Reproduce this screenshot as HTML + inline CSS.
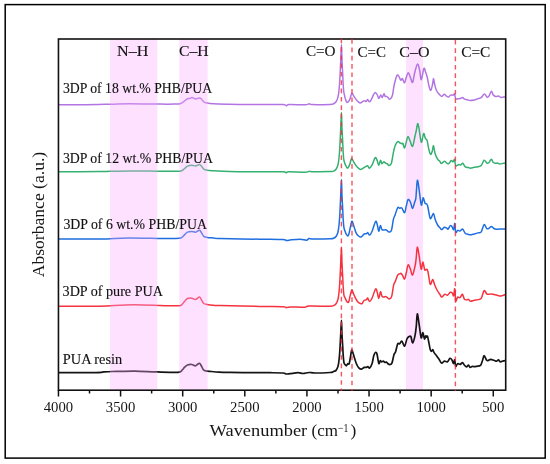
<!DOCTYPE html><html><head><meta charset="utf-8"><style>html,body{margin:0;padding:0;background:#fff}svg{display:block}text{font-family:'Liberation Serif','DejaVu Serif',serif;fill:#111;stroke:#111;stroke-width:0.12px}</style></head><body>
<svg width="550" height="464" viewBox="0 0 550 464">
<rect x="0" y="0" width="550" height="464" fill="#fff"/>
<rect x="5.2" y="4.6" width="540" height="453.5" fill="none" stroke="#000" stroke-width="1.5"/>
<defs><clipPath id="c"><rect x="58.45" y="39.0" width="447.25" height="351.2"/></clipPath></defs>
<rect x="406" y="39.0" width="17" height="351.2" fill="#fde1fe"/>
<g clip-path="url(#c)" fill="none" stroke-width="1.5" stroke-linejoin="round" stroke-linecap="round">
<path d="M58.00 372.60C64.33 372.60 88.33 372.72 96.00 372.60C103.67 372.48 101.33 372.08 104.00 371.90C106.67 371.72 109.33 371.58 112.00 371.50C114.67 371.42 116.17 371.45 120.00 371.40C123.83 371.35 129.17 371.12 135.00 371.20C140.83 371.28 149.17 371.72 155.00 371.90C160.83 372.08 165.95 372.25 170.00 372.30C174.05 372.35 177.30 372.55 179.30 372.20C181.30 371.85 181.10 371.03 182.00 370.20C182.90 369.37 183.78 368.07 184.70 367.20C185.62 366.33 186.32 365.45 187.50 365.00C188.68 364.55 190.53 364.37 191.80 364.50C193.07 364.63 194.18 365.80 195.10 365.80C196.02 365.80 196.57 364.92 197.30 364.50C198.03 364.08 198.78 362.98 199.50 363.30C200.22 363.62 200.97 365.35 201.60 366.40C202.23 367.45 202.57 368.83 203.30 369.60C204.03 370.37 205.00 370.72 206.00 371.00C207.00 371.28 207.13 371.12 209.30 371.30C211.47 371.48 215.55 371.92 219.00 372.10C222.45 372.28 224.83 372.32 230.00 372.40C235.17 372.48 243.33 372.55 250.00 372.60C256.67 372.65 264.50 372.63 270.00 372.70C275.50 372.77 280.27 372.78 283.00 373.00C285.73 373.22 285.23 373.88 286.40 374.00C287.57 374.12 288.07 373.93 290.00 373.70C291.93 373.47 295.83 372.63 298.00 372.60C300.17 372.57 301.17 373.52 303.00 373.50C304.83 373.48 307.00 372.58 309.00 372.50C311.00 372.42 311.50 373.00 315.00 373.00C318.50 373.00 327.00 372.70 330.00 372.50C333.00 372.30 332.33 372.00 333.00 371.80C333.67 371.60 333.49 371.54 334.00 371.30C334.51 371.06 335.41 371.11 336.05 370.35C336.69 369.59 337.41 368.03 337.85 366.74C338.29 365.45 338.42 364.50 338.70 362.61C338.98 360.72 339.27 358.14 339.50 355.39C339.73 352.64 339.89 349.71 340.10 346.10C340.31 342.49 340.52 338.02 340.75 333.72C340.98 329.42 341.25 320.30 341.45 320.30C341.65 320.30 341.74 329.42 341.95 333.72C342.16 338.02 342.49 342.49 342.70 346.10C342.91 349.71 342.99 352.64 343.20 355.39C343.41 358.14 343.65 361.11 343.95 362.61C344.25 364.11 344.59 363.87 345.00 364.40C345.41 364.93 345.93 365.92 346.40 365.80C346.87 365.68 347.33 364.05 347.80 363.70C348.27 363.35 348.73 364.97 349.20 363.70C349.67 362.43 350.18 358.40 350.60 356.10C351.02 353.80 351.25 350.23 351.70 349.90C352.15 349.57 352.57 351.92 353.30 354.10C354.03 356.28 355.18 360.70 356.10 363.00C357.02 365.30 357.88 366.87 358.80 367.90C359.72 368.93 360.70 369.28 361.60 369.20C362.50 369.12 363.38 367.70 364.20 367.40C365.02 367.10 365.90 367.53 366.50 367.40C367.10 367.27 367.28 366.50 367.80 366.60C368.32 366.70 368.88 368.52 369.60 368.00C370.32 367.48 371.40 365.57 372.10 363.50C372.80 361.43 373.20 357.47 373.80 355.60C374.40 353.73 375.15 352.48 375.70 352.30C376.25 352.12 376.58 352.63 377.10 354.50C377.62 356.37 378.28 362.47 378.80 363.50C379.32 364.53 379.73 360.98 380.20 360.70C380.67 360.42 381.08 361.72 381.60 361.80C382.12 361.88 382.73 361.10 383.30 361.20C383.87 361.30 384.48 362.25 385.00 362.40C385.52 362.55 385.85 361.83 386.40 362.10C386.95 362.37 387.70 363.58 388.30 364.00C388.90 364.42 389.38 364.78 390.00 364.60C390.62 364.42 391.33 364.58 392.00 362.90C392.67 361.22 393.40 356.37 394.00 354.50C394.60 352.63 394.98 353.47 395.60 351.70C396.22 349.93 397.03 345.20 397.70 343.90C398.37 342.60 398.92 344.37 399.60 343.90C400.28 343.43 400.97 340.73 401.80 341.10C402.63 341.47 403.75 346.45 404.60 346.10C405.45 345.75 406.18 340.57 406.90 339.00C407.62 337.43 408.25 337.12 408.90 336.70C409.55 336.28 410.15 335.47 410.80 336.50C411.45 337.53 412.08 343.12 412.80 342.90C413.52 342.68 414.52 338.02 415.10 335.20C415.68 332.38 415.93 329.57 416.30 326.00C416.67 322.43 416.82 314.00 417.30 313.80C417.78 313.60 418.55 320.80 419.20 324.80C419.85 328.80 420.58 336.50 421.20 337.80C421.82 339.10 422.37 332.40 422.90 332.60C423.43 332.80 423.93 338.47 424.40 339.00C424.87 339.53 425.32 336.12 425.70 335.80C426.08 335.48 426.38 336.98 426.70 337.10C427.02 337.22 427.23 335.53 427.60 336.50C427.97 337.47 428.47 340.75 428.90 342.90C429.33 345.05 429.77 348.00 430.20 349.40C430.63 350.80 431.07 351.25 431.50 351.30C431.93 351.35 432.37 349.48 432.80 349.70C433.23 349.92 433.45 351.57 434.10 352.60C434.75 353.63 435.83 354.72 436.70 355.90C437.57 357.08 438.47 358.50 439.30 359.70C440.13 360.90 440.87 362.85 441.70 363.10C442.53 363.35 443.33 361.42 444.30 361.20C445.27 360.98 446.55 362.28 447.50 361.80C448.45 361.32 449.27 358.62 450.00 358.30C450.73 357.98 451.33 359.00 451.90 359.90C452.47 360.80 452.93 363.70 453.40 363.70C453.87 363.70 454.32 359.47 454.70 359.90C455.08 360.33 455.22 365.67 455.70 366.30C456.18 366.93 456.85 364.02 457.60 363.70C458.35 363.38 459.38 364.60 460.20 364.40C461.02 364.20 461.82 362.40 462.50 362.50C463.18 362.60 463.63 364.27 464.30 365.00C464.97 365.73 465.80 366.90 466.50 366.90C467.20 366.90 467.90 364.90 468.50 365.00C469.10 365.10 469.47 367.28 470.10 367.50C470.73 367.72 471.62 366.43 472.30 366.30C472.98 366.17 473.47 366.70 474.20 366.70C474.93 366.70 475.65 366.52 476.70 366.30C477.75 366.08 479.53 366.37 480.50 365.40C481.47 364.43 481.90 362.12 482.50 360.50C483.10 358.88 483.40 355.73 484.10 355.70C484.80 355.67 486.02 359.50 486.70 360.30C487.38 361.10 487.53 360.67 488.20 360.50C488.87 360.33 489.75 359.33 490.70 359.30C491.65 359.27 492.93 359.98 493.90 360.30C494.87 360.62 495.75 361.27 496.50 361.20C497.25 361.13 497.77 359.80 498.40 359.90C499.03 360.00 499.45 361.65 500.30 361.80C501.15 361.95 502.55 361.02 503.50 360.80C504.45 360.58 505.58 360.55 506.00 360.50" stroke="#141414" stroke-width="1.7"/>
<path d="M58.00 306.20C65.00 306.20 89.67 306.35 100.00 306.20C110.33 306.05 114.17 305.53 120.00 305.30C125.83 305.07 128.33 304.77 135.00 304.80C141.67 304.83 154.17 305.33 160.00 305.50C165.83 305.67 166.78 305.77 170.00 305.80C173.22 305.83 177.30 305.92 179.30 305.70C181.30 305.48 181.10 305.23 182.00 304.50C182.90 303.77 183.78 302.30 184.70 301.30C185.62 300.30 186.32 299.02 187.50 298.50C188.68 297.98 190.45 298.05 191.80 298.20C193.15 298.35 194.32 299.58 195.60 299.40C196.88 299.22 198.50 296.97 199.50 297.10C200.50 297.23 200.88 299.13 201.60 300.20C202.32 301.27 202.88 302.78 203.80 303.50C204.72 304.22 205.47 304.20 207.10 304.50C208.73 304.80 211.45 305.12 213.60 305.30C215.75 305.48 212.27 305.42 220.00 305.60C227.73 305.78 249.50 306.22 260.00 306.40C270.50 306.58 278.60 306.48 283.00 306.70C287.40 306.92 285.23 307.67 286.40 307.70C287.57 307.73 286.98 306.98 290.00 306.90C293.02 306.82 301.33 307.33 304.50 307.20C307.67 307.07 304.75 306.27 309.00 306.10C313.25 305.93 325.92 306.28 330.00 306.20C334.08 306.12 332.49 306.01 333.50 305.60C334.51 305.19 335.33 304.74 336.05 303.76C336.77 302.78 337.41 301.16 337.85 299.71C338.29 298.26 338.42 297.20 338.70 295.08C338.98 292.95 339.27 290.06 339.50 286.97C339.73 283.88 339.89 280.60 340.10 276.55C340.31 272.50 340.52 267.48 340.75 262.65C340.98 257.83 341.25 247.60 341.45 247.60C341.65 247.60 341.74 257.83 341.95 262.65C342.16 267.48 342.49 272.50 342.70 276.55C342.91 280.60 342.99 283.88 343.20 286.97C343.41 290.06 343.65 293.29 343.95 295.08C344.25 296.87 344.54 296.68 345.00 297.70C345.46 298.72 346.08 300.48 346.70 301.20C347.32 301.92 348.10 303.03 348.70 302.00C349.30 300.97 349.77 296.98 350.30 295.00C350.83 293.02 351.32 290.18 351.90 290.10C352.48 290.02 353.12 293.00 353.80 294.50C354.48 296.00 355.27 297.80 356.00 299.10C356.73 300.40 357.47 301.57 358.20 302.30C358.93 303.03 359.77 303.28 360.40 303.50C361.03 303.72 361.37 304.13 362.00 303.60C362.63 303.07 363.45 300.95 364.20 300.30C364.95 299.65 365.93 300.08 366.50 299.70C367.07 299.32 367.08 297.72 367.60 298.00C368.12 298.28 368.85 301.40 369.60 301.40C370.35 301.40 371.12 300.05 372.10 298.00C373.08 295.95 374.67 290.15 375.50 289.10C376.33 288.05 376.55 290.15 377.10 291.70C377.65 293.25 378.23 298.40 378.80 298.40C379.37 298.40 379.97 292.03 380.50 291.70C381.03 291.37 381.43 295.53 382.00 296.40C382.57 297.27 383.22 296.87 383.90 296.90C384.58 296.93 385.45 296.42 386.10 296.60C386.75 296.78 387.23 297.62 387.80 298.00C388.37 298.38 388.85 299.17 389.50 298.90C390.15 298.63 391.02 298.70 391.70 296.40C392.38 294.10 392.98 287.63 393.60 285.10C394.22 282.57 394.72 282.87 395.40 281.20C396.08 279.53 397.00 276.32 397.70 275.10C398.40 273.88 399.02 274.18 399.60 273.90C400.18 273.62 400.65 273.02 401.20 273.40C401.75 273.78 402.33 275.27 402.90 276.20C403.47 277.13 404.03 279.57 404.60 279.00C405.17 278.43 405.72 275.13 406.30 272.80C406.88 270.47 407.43 265.67 408.10 265.00C408.77 264.33 409.57 267.13 410.30 268.80C411.03 270.47 411.70 275.48 412.50 275.00C413.30 274.52 414.48 268.73 415.10 265.90C415.72 263.07 415.83 261.12 416.20 258.00C416.57 254.88 416.80 247.50 417.30 247.20C417.80 246.90 418.55 252.53 419.20 256.20C419.85 259.87 420.58 268.22 421.20 269.20C421.82 270.18 422.32 262.00 422.90 262.10C423.48 262.20 424.07 268.62 424.70 269.80C425.33 270.98 426.15 268.87 426.70 269.20C427.25 269.53 427.48 269.53 428.00 271.80C428.52 274.07 429.32 280.77 429.80 282.80C430.28 284.83 430.40 284.55 430.90 284.00C431.40 283.45 432.15 279.28 432.80 279.50C433.45 279.72 434.05 283.47 434.80 285.30C435.55 287.13 436.45 288.98 437.30 290.50C438.15 292.02 439.17 293.30 439.90 294.40C440.63 295.50 440.87 297.12 441.70 297.10C442.53 297.08 443.93 294.62 444.90 294.30C445.87 293.98 446.60 295.53 447.50 295.20C448.40 294.87 449.50 292.67 450.30 292.30C451.10 291.93 451.75 292.42 452.30 293.00C452.85 293.58 453.18 296.50 453.60 295.80C454.02 295.10 454.45 287.95 454.80 288.80C455.15 289.65 455.23 299.52 455.70 300.90C456.17 302.28 456.97 297.63 457.60 297.10C458.23 296.57 458.97 297.80 459.50 297.70C460.03 297.60 460.30 297.07 460.80 296.50C461.30 295.93 461.92 293.88 462.50 294.30C463.08 294.72 463.63 298.07 464.30 299.00C464.97 299.93 465.80 299.83 466.50 299.90C467.20 299.97 467.85 299.18 468.50 299.40C469.15 299.62 469.45 301.05 470.40 301.20C471.35 301.35 472.93 300.57 474.20 300.30C475.47 300.03 476.83 299.92 478.00 299.60C479.17 299.28 480.18 299.88 481.20 298.40C482.22 296.92 483.18 291.45 484.10 290.70C485.02 289.95 485.92 293.30 486.70 293.90C487.48 294.50 488.02 294.30 488.80 294.30C489.58 294.30 490.55 293.87 491.40 293.90C492.25 293.93 492.95 294.28 493.90 294.50C494.85 294.72 496.03 294.93 497.10 295.20C498.17 295.47 499.23 296.10 500.30 296.10C501.37 296.10 502.55 295.47 503.50 295.20C504.45 294.93 505.58 294.62 506.00 294.50" stroke="#F5333F"/>
<path d="M58.00 239.00C65.00 239.00 88.33 239.18 100.00 239.00C111.67 238.82 118.00 237.98 128.00 237.90C138.00 237.82 153.00 238.38 160.00 238.50C167.00 238.62 166.78 238.63 170.00 238.60C173.22 238.57 177.30 238.50 179.30 238.30C181.30 238.10 181.10 238.02 182.00 237.40C182.90 236.78 183.78 235.48 184.70 234.60C185.62 233.72 186.32 232.63 187.50 232.10C188.68 231.57 190.45 231.38 191.80 231.40C193.15 231.42 194.32 232.38 195.60 232.20C196.88 232.02 198.50 230.17 199.50 230.30C200.50 230.43 200.88 232.00 201.60 233.00C202.32 234.00 202.88 235.57 203.80 236.30C204.72 237.03 205.47 237.12 207.10 237.40C208.73 237.68 211.45 237.80 213.60 238.00C215.75 238.20 212.27 238.40 220.00 238.60C227.73 238.80 249.50 239.03 260.00 239.20C270.50 239.37 278.60 239.37 283.00 239.60C287.40 239.83 285.23 240.53 286.40 240.60C287.57 240.67 287.73 240.23 290.00 240.00C292.27 239.77 297.27 239.17 300.00 239.20C302.73 239.23 304.90 240.32 306.40 240.20C307.90 240.08 308.07 238.70 309.00 238.50C309.93 238.30 308.50 238.95 312.00 239.00C315.50 239.05 326.42 238.92 330.00 238.80C333.58 238.68 332.49 238.68 333.50 238.30C334.51 237.92 335.33 237.52 336.05 236.54C336.77 235.56 337.41 233.90 337.85 232.43C338.29 230.96 338.42 229.89 338.70 227.73C338.98 225.58 339.27 222.65 339.50 219.52C339.73 216.39 339.89 213.06 340.10 208.95C340.31 204.84 340.52 199.75 340.75 194.86C340.98 189.97 341.25 179.60 341.45 179.60C341.65 179.60 341.74 189.97 341.95 194.86C342.16 199.75 342.49 204.84 342.70 208.95C342.91 213.06 342.99 216.39 343.20 219.52C343.41 222.65 343.65 225.80 343.95 227.73C344.25 229.66 344.57 229.97 345.00 231.10C345.43 232.23 345.93 233.77 346.50 234.50C347.07 235.23 347.78 236.58 348.40 235.50C349.02 234.42 349.62 230.38 350.20 228.00C350.78 225.62 351.30 221.53 351.90 221.20C352.50 220.87 353.12 224.10 353.80 226.00C354.48 227.90 355.30 231.02 356.00 232.60C356.70 234.18 357.27 234.77 358.00 235.50C358.73 236.23 359.70 236.92 360.40 237.00C361.10 237.08 361.57 236.50 362.20 236.00C362.83 235.50 363.48 234.38 364.20 234.00C364.92 233.62 365.90 233.93 366.50 233.70C367.10 233.47 367.28 232.37 367.80 232.60C368.32 232.83 368.88 235.33 369.60 235.10C370.32 234.87 371.12 233.45 372.10 231.20C373.08 228.95 374.67 222.82 375.50 221.60C376.33 220.38 376.55 222.30 377.10 223.90C377.65 225.50 378.27 230.92 378.80 231.20C379.33 231.48 379.77 225.85 380.30 225.60C380.83 225.35 381.40 228.97 382.00 229.70C382.60 230.43 383.32 230.00 383.90 230.00C384.48 230.00 384.95 229.60 385.50 229.70C386.05 229.80 386.63 230.22 387.20 230.60C387.77 230.98 388.20 232.03 388.90 232.00C389.60 231.97 390.65 232.50 391.40 230.40C392.15 228.30 392.78 221.98 393.40 219.40C394.02 216.82 394.38 216.87 395.10 214.90C395.82 212.93 396.95 208.72 397.70 207.60C398.45 206.48 398.92 208.13 399.60 208.20C400.28 208.27 400.97 207.25 401.80 208.00C402.63 208.75 403.85 213.05 404.60 212.70C405.35 212.35 405.73 208.08 406.30 205.90C406.87 203.72 407.32 200.25 408.00 199.60C408.68 198.95 409.65 200.53 410.40 202.00C411.15 203.47 411.78 208.40 412.50 208.40C413.22 208.40 414.13 203.77 414.70 202.00C415.27 200.23 415.47 201.37 415.90 197.80C416.33 194.23 416.80 182.22 417.30 180.60C417.80 178.98 418.23 184.03 418.90 188.10C419.57 192.17 420.60 203.38 421.30 205.00C422.00 206.62 422.48 198.10 423.10 197.80C423.72 197.50 424.43 202.20 425.00 203.20C425.57 204.20 426.05 203.30 426.50 203.80C426.95 204.30 427.15 203.98 427.70 206.20C428.25 208.42 429.25 215.08 429.80 217.10C430.35 219.12 430.40 218.90 431.00 218.30C431.60 217.70 432.70 213.30 433.40 213.50C434.10 213.70 434.50 217.58 435.20 219.50C435.90 221.42 436.78 223.58 437.60 225.00C438.42 226.42 439.38 227.23 440.10 228.00C440.82 228.77 441.20 229.73 441.90 229.60C442.60 229.47 443.48 227.45 444.30 227.20C445.12 226.95 446.17 227.78 446.80 228.10C447.43 228.42 447.52 229.53 448.10 229.10C448.68 228.67 449.67 225.93 450.30 225.50C450.93 225.07 451.35 225.80 451.90 226.50C452.45 227.20 453.12 230.22 453.60 229.70C454.08 229.18 454.45 222.97 454.80 223.40C455.15 223.83 455.23 231.13 455.70 232.30C456.17 233.47 456.97 230.62 457.60 230.40C458.23 230.18 458.97 231.00 459.50 231.00C460.03 231.00 460.27 230.72 460.80 230.40C461.33 230.08 461.95 228.58 462.70 229.10C463.45 229.62 464.45 232.65 465.30 233.50C466.15 234.35 466.95 233.98 467.80 234.20C468.65 234.42 469.33 234.85 470.40 234.80C471.47 234.75 472.93 234.22 474.20 233.90C475.47 233.58 476.83 233.23 478.00 232.90C479.17 232.57 480.18 233.28 481.20 231.90C482.22 230.52 483.18 225.17 484.10 224.60C485.02 224.03 485.92 227.85 486.70 228.50C487.48 229.15 488.02 228.83 488.80 228.50C489.58 228.17 490.55 226.50 491.40 226.50C492.25 226.50 493.05 228.03 493.90 228.50C494.75 228.97 495.55 229.20 496.50 229.30C497.45 229.40 498.43 229.13 499.60 229.10C500.77 229.07 502.43 229.12 503.50 229.10C504.57 229.08 505.58 229.02 506.00 229.00" stroke="#1E6EE0"/>
<path d="M58.00 171.80C65.00 171.77 91.33 171.68 100.00 171.60C108.67 171.52 105.00 171.42 110.00 171.30C115.00 171.18 123.33 170.93 130.00 170.90C136.67 170.87 143.33 171.05 150.00 171.10C156.67 171.15 165.12 171.18 170.00 171.20C174.88 171.22 177.30 171.30 179.30 171.20C181.30 171.10 181.10 171.05 182.00 170.60C182.90 170.15 183.78 169.25 184.70 168.50C185.62 167.75 186.32 166.65 187.50 166.10C188.68 165.55 190.45 165.22 191.80 165.20C193.15 165.18 194.32 166.13 195.60 166.00C196.88 165.87 198.50 164.35 199.50 164.40C200.50 164.45 200.88 165.50 201.60 166.30C202.32 167.10 202.88 168.53 203.80 169.20C204.72 169.87 205.47 170.03 207.10 170.30C208.73 170.57 209.78 170.60 213.60 170.80C217.42 171.00 223.93 171.33 230.00 171.50C236.07 171.67 244.50 171.75 250.00 171.80C255.50 171.85 257.50 171.80 263.00 171.80C268.50 171.80 279.10 171.63 283.00 171.80C286.90 171.97 285.40 172.80 286.40 172.80C287.40 172.80 285.90 171.88 289.00 171.80C292.10 171.72 301.62 172.40 305.00 172.30C308.38 172.20 308.13 171.30 309.30 171.20C310.47 171.10 308.55 171.63 312.00 171.70C315.45 171.77 326.42 171.70 330.00 171.60C333.58 171.50 332.49 171.49 333.50 171.10C334.51 170.71 335.33 170.24 336.05 169.25C336.77 168.26 337.41 166.62 337.85 165.16C338.29 163.70 338.42 162.63 338.70 160.49C338.98 158.35 339.27 155.43 339.50 152.31C339.73 149.20 339.89 145.89 340.10 141.80C340.31 137.71 340.52 132.65 340.75 127.78C340.98 122.92 341.25 112.60 341.45 112.60C341.65 112.60 341.74 122.92 341.95 127.78C342.16 132.65 342.49 137.71 342.70 141.80C342.91 145.89 342.99 149.20 343.20 152.31C343.41 155.43 343.45 158.12 343.95 160.49C344.45 162.85 345.54 165.25 346.20 166.50C346.86 167.75 347.30 168.37 347.90 168.00C348.50 167.63 349.18 165.88 349.80 164.30C350.42 162.72 350.90 158.80 351.60 158.50C352.30 158.20 353.10 161.12 354.00 162.50C354.90 163.88 355.93 165.63 357.00 166.80C358.07 167.97 359.48 169.22 360.40 169.50C361.32 169.78 361.77 168.90 362.50 168.50C363.23 168.10 363.95 167.57 364.80 167.10C365.65 166.63 366.85 165.52 367.60 165.70C368.35 165.88 368.55 168.35 369.30 168.20C370.05 168.05 371.12 166.57 372.10 164.80C373.08 163.03 374.37 158.33 375.20 157.60C376.03 156.87 376.50 159.10 377.10 160.40C377.70 161.70 378.23 165.40 378.80 165.40C379.37 165.40 379.97 160.68 380.50 160.40C381.03 160.12 381.43 163.48 382.00 163.70C382.57 163.92 383.32 161.78 383.90 161.70C384.48 161.62 384.95 162.87 385.50 163.20C386.05 163.53 386.63 163.33 387.20 163.70C387.77 164.07 388.20 165.48 388.90 165.40C389.60 165.32 390.65 165.35 391.40 163.20C392.15 161.05 392.78 155.40 393.40 152.50C394.02 149.60 394.38 147.62 395.10 145.80C395.82 143.98 396.87 142.07 397.70 141.60C398.53 141.13 399.42 142.63 400.10 143.00C400.78 143.37 401.33 143.72 401.80 143.80C402.27 143.88 402.43 142.80 402.90 143.50C403.37 144.20 404.03 148.27 404.60 148.00C405.17 147.73 405.73 143.82 406.30 141.90C406.87 139.98 407.35 136.62 408.00 136.50C408.65 136.38 409.43 139.57 410.20 141.20C410.97 142.83 411.80 147.17 412.60 146.30C413.40 145.43 414.37 138.72 415.00 136.00C415.63 133.28 415.97 132.07 416.40 130.00C416.83 127.93 417.17 123.88 417.60 123.60C418.03 123.32 418.38 125.20 419.00 128.30C419.62 131.40 420.53 141.33 421.30 142.20C422.07 143.07 422.93 134.17 423.60 133.50C424.27 132.83 424.72 137.03 425.30 138.20C425.88 139.37 426.52 138.67 427.10 140.50C427.68 142.33 428.22 146.88 428.80 149.20C429.38 151.52 430.02 154.10 430.60 154.40C431.18 154.70 431.82 152.45 432.30 151.00C432.78 149.55 433.05 145.32 433.50 145.70C433.95 146.08 434.32 151.07 435.00 153.30C435.68 155.53 436.78 157.75 437.60 159.10C438.42 160.45 439.27 160.67 439.90 161.40C440.53 162.13 440.67 163.53 441.40 163.50C442.13 163.47 443.40 161.27 444.30 161.20C445.20 161.13 446.07 162.68 446.80 163.10C447.53 163.52 447.95 164.13 448.70 163.70C449.45 163.27 450.55 160.82 451.30 160.50C452.05 160.18 452.67 162.00 453.20 161.80C453.73 161.60 454.18 159.08 454.50 159.30C454.82 159.52 454.83 162.00 455.10 163.10C455.37 164.20 455.47 165.65 456.10 165.90C456.73 166.15 458.12 164.75 458.90 164.60C459.68 164.45 460.17 165.22 460.80 165.00C461.43 164.78 461.95 162.98 462.70 163.30C463.45 163.62 464.33 166.20 465.30 166.90C466.27 167.60 467.65 167.28 468.50 167.50C469.35 167.72 469.45 168.23 470.40 168.20C471.35 168.17 472.93 167.55 474.20 167.30C475.47 167.05 476.83 166.98 478.00 166.70C479.17 166.42 480.18 166.67 481.20 165.60C482.22 164.53 483.15 160.72 484.10 160.30C485.05 159.88 486.12 162.68 486.90 163.10C487.68 163.52 488.05 163.43 488.80 162.80C489.55 162.17 490.65 159.35 491.40 159.30C492.15 159.25 492.57 161.83 493.30 162.50C494.03 163.17 495.07 163.20 495.80 163.30C496.53 163.40 497.07 162.97 497.70 163.10C498.33 163.23 498.63 164.07 499.60 164.10C500.57 164.13 502.43 163.48 503.50 163.30C504.57 163.12 505.58 163.05 506.00 163.00" stroke="#35B070"/>
<path d="M58.00 104.70C62.50 104.70 76.33 104.78 85.00 104.70C93.67 104.62 102.50 104.37 110.00 104.20C117.50 104.03 121.67 103.72 130.00 103.70C138.33 103.68 152.50 104.03 160.00 104.10C167.50 104.17 171.78 104.13 175.00 104.10C178.22 104.07 178.13 104.10 179.30 103.90C180.47 103.70 181.10 103.40 182.00 102.90C182.90 102.40 183.78 101.60 184.70 100.90C185.62 100.20 186.62 99.10 187.50 98.70C188.38 98.30 189.25 98.72 190.00 98.50C190.75 98.28 191.07 97.33 192.00 97.40C192.93 97.47 194.35 98.82 195.60 98.90C196.85 98.98 198.50 97.83 199.50 97.90C200.50 97.97 200.88 98.65 201.60 99.30C202.32 99.95 202.88 101.17 203.80 101.80C204.72 102.43 205.47 102.77 207.10 103.10C208.73 103.43 209.97 103.60 213.60 103.80C217.23 104.00 224.50 104.18 228.90 104.30C233.30 104.42 234.32 104.45 240.00 104.50C245.68 104.55 255.83 104.58 263.00 104.60C270.17 104.62 279.10 104.40 283.00 104.60C286.90 104.80 285.40 105.80 286.40 105.80C287.40 105.80 285.90 104.77 289.00 104.60C292.10 104.43 301.62 104.93 305.00 104.80C308.38 104.67 308.13 103.83 309.30 103.80C310.47 103.77 308.55 104.50 312.00 104.60C315.45 104.70 326.42 104.53 330.00 104.40C333.58 104.27 332.49 104.25 333.50 103.80C334.51 103.35 335.33 102.76 336.05 101.73C336.77 100.70 337.41 99.07 337.85 97.60C338.29 96.12 338.42 95.04 338.70 92.88C338.98 90.72 339.27 87.77 339.50 84.62C339.73 81.47 339.89 78.13 340.10 74.00C340.31 69.87 340.52 64.76 340.75 59.84C340.98 54.92 341.25 44.50 341.45 44.50C341.65 44.50 341.74 54.92 341.95 59.84C342.16 64.76 342.49 69.87 342.70 74.00C342.91 78.13 342.99 81.47 343.20 84.62C343.41 87.77 343.43 90.08 343.95 92.88C344.47 95.68 345.61 99.88 346.30 101.40C346.99 102.92 347.50 102.35 348.10 102.00C348.70 101.65 349.28 100.73 349.90 99.30C350.52 97.87 351.10 93.85 351.80 93.40C352.50 92.95 353.22 95.37 354.10 96.60C354.98 97.83 356.10 99.75 357.10 100.80C358.10 101.85 359.18 102.75 360.10 102.90C361.02 103.05 361.88 102.07 362.60 101.70C363.32 101.33 363.80 100.73 364.40 100.70C365.00 100.67 365.67 101.70 366.20 101.50C366.73 101.30 367.05 99.45 367.60 99.50C368.15 99.55 368.83 101.90 369.50 101.80C370.17 101.70 370.88 100.17 371.60 98.90C372.32 97.63 373.18 95.28 373.80 94.20C374.42 93.12 374.75 92.35 375.30 92.40C375.85 92.45 376.52 93.48 377.10 94.50C377.68 95.52 378.20 98.43 378.80 98.50C379.40 98.57 380.13 95.07 380.70 94.90C381.27 94.73 381.65 97.68 382.20 97.50C382.75 97.32 383.52 93.98 384.00 93.80C384.48 93.62 384.68 95.97 385.10 96.40C385.52 96.83 386.02 96.22 386.50 96.40C386.98 96.58 387.50 97.02 388.00 97.50C388.50 97.98 388.95 99.25 389.50 99.30C390.05 99.35 390.80 98.52 391.30 97.80C391.80 97.08 392.08 96.80 392.50 95.00C392.92 93.20 393.38 89.25 393.80 87.00C394.22 84.75 394.47 83.43 395.00 81.50C395.53 79.57 396.40 76.33 397.00 75.40C397.60 74.47 397.97 75.10 398.60 75.90C399.23 76.70 400.17 79.75 400.80 80.20C401.43 80.65 401.78 78.15 402.40 78.60C403.02 79.05 403.87 83.07 404.50 82.90C405.13 82.73 405.57 79.30 406.20 77.60C406.83 75.90 407.58 72.70 408.30 72.70C409.02 72.70 409.78 75.98 410.50 77.60C411.22 79.22 411.88 83.30 412.60 82.40C413.32 81.50 413.98 75.25 414.80 72.20C415.62 69.15 416.70 64.47 417.50 64.10C418.30 63.73 418.97 67.40 419.60 70.00C420.23 72.60 420.58 79.97 421.30 79.70C422.02 79.43 423.18 69.65 423.90 68.40C424.62 67.15 425.05 70.77 425.60 72.20C426.15 73.63 426.67 74.85 427.20 77.00C427.73 79.15 428.22 82.85 428.80 85.10C429.38 87.35 430.07 90.68 430.70 90.50C431.33 90.32 432.12 85.98 432.60 84.00C433.08 82.02 433.25 78.50 433.60 78.60C433.95 78.70 434.25 82.70 434.70 84.60C435.15 86.50 435.67 88.52 436.30 90.00C436.93 91.48 437.60 92.43 438.50 93.50C439.40 94.57 440.73 96.28 441.70 96.40C442.67 96.52 443.45 94.20 444.30 94.20C445.15 94.20 446.07 95.93 446.80 96.40C447.53 96.87 448.07 97.22 448.70 97.00C449.33 96.78 449.85 95.42 450.60 95.10C451.35 94.78 452.55 95.32 453.20 95.10C453.85 94.88 454.18 93.58 454.50 93.80C454.82 94.02 454.83 95.55 455.10 96.40C455.37 97.25 455.47 98.52 456.10 98.90C456.73 99.28 458.12 98.80 458.90 98.70C459.68 98.60 460.17 98.52 460.80 98.30C461.43 98.08 462.07 97.25 462.70 97.40C463.33 97.55 463.75 98.78 464.60 99.20C465.45 99.62 466.83 99.70 467.80 99.90C468.77 100.10 469.33 100.40 470.40 100.40C471.47 100.40 473.03 100.15 474.20 99.90C475.37 99.65 476.23 99.28 477.40 98.90C478.57 98.52 480.03 98.40 481.20 97.60C482.37 96.80 483.45 94.20 484.40 94.10C485.35 94.00 486.17 96.62 486.90 97.00C487.63 97.38 488.05 97.35 488.80 96.40C489.55 95.45 490.65 91.52 491.40 91.30C492.15 91.08 492.57 94.22 493.30 95.10C494.03 95.98 494.95 96.43 495.80 96.60C496.65 96.77 497.55 95.97 498.40 96.10C499.25 96.23 500.05 97.25 500.90 97.40C501.75 97.55 502.65 97.07 503.50 97.00C504.35 96.93 505.58 97.00 506.00 97.00" stroke="#B274E2"/>
</g>
<rect x="110" y="39.0" width="47.30000000000001" height="351.2" fill="#f9a9fc" fill-opacity="0.35"/>
<rect x="179.3" y="39.0" width="28.299999999999983" height="351.2" fill="#f9a9fc" fill-opacity="0.35"/>
<rect x="58.45" y="39.0" width="447.25" height="351.2" fill="none" stroke="#111" stroke-width="1.6"/>
<line x1="341.4" y1="38.6" x2="341.4" y2="391" stroke="#F82838" stroke-opacity="0.8" stroke-width="1.4" stroke-dasharray="4.7 3.63"/>
<line x1="352.0" y1="39.1" x2="352.0" y2="391" stroke="#F82838" stroke-opacity="0.8" stroke-width="1.4" stroke-dasharray="4.7 3.63"/>
<line x1="455.4" y1="39.9" x2="455.4" y2="391" stroke="#F82838" stroke-opacity="0.8" stroke-width="1.4" stroke-dasharray="4.7 3.63"/>
<line x1="58.45" y1="390.2" x2="58.45" y2="396.5" stroke="#111" stroke-width="1.5"/>
<line x1="89.51" y1="390.2" x2="89.51" y2="393.5" stroke="#111" stroke-width="1.5"/>
<line x1="120.57" y1="390.2" x2="120.57" y2="396.5" stroke="#111" stroke-width="1.5"/>
<line x1="151.63" y1="390.2" x2="151.63" y2="393.5" stroke="#111" stroke-width="1.5"/>
<line x1="182.69" y1="390.2" x2="182.69" y2="396.5" stroke="#111" stroke-width="1.5"/>
<line x1="213.75" y1="390.2" x2="213.75" y2="393.5" stroke="#111" stroke-width="1.5"/>
<line x1="244.80" y1="390.2" x2="244.80" y2="396.5" stroke="#111" stroke-width="1.5"/>
<line x1="275.86" y1="390.2" x2="275.86" y2="393.5" stroke="#111" stroke-width="1.5"/>
<line x1="306.92" y1="390.2" x2="306.92" y2="396.5" stroke="#111" stroke-width="1.5"/>
<line x1="337.98" y1="390.2" x2="337.98" y2="393.5" stroke="#111" stroke-width="1.5"/>
<line x1="369.04" y1="390.2" x2="369.04" y2="396.5" stroke="#111" stroke-width="1.5"/>
<line x1="400.10" y1="390.2" x2="400.10" y2="393.5" stroke="#111" stroke-width="1.5"/>
<line x1="431.16" y1="390.2" x2="431.16" y2="396.5" stroke="#111" stroke-width="1.5"/>
<line x1="462.22" y1="390.2" x2="462.22" y2="393.5" stroke="#111" stroke-width="1.5"/>
<line x1="493.28" y1="390.2" x2="493.28" y2="396.5" stroke="#111" stroke-width="1.5"/>
<text style="stroke:none;fill:#151515" x="58.45" y="412.2" font-size="14.2" text-anchor="middle" textLength="29.4" lengthAdjust="spacingAndGlyphs">4000</text>
<text style="stroke:none;fill:#151515" x="120.57" y="412.2" font-size="14.2" text-anchor="middle" textLength="29.4" lengthAdjust="spacingAndGlyphs">3500</text>
<text style="stroke:none;fill:#151515" x="182.69" y="412.2" font-size="14.2" text-anchor="middle" textLength="29.4" lengthAdjust="spacingAndGlyphs">3000</text>
<text style="stroke:none;fill:#151515" x="244.80" y="412.2" font-size="14.2" text-anchor="middle" textLength="29.4" lengthAdjust="spacingAndGlyphs">2500</text>
<text style="stroke:none;fill:#151515" x="306.92" y="412.2" font-size="14.2" text-anchor="middle" textLength="29.4" lengthAdjust="spacingAndGlyphs">2000</text>
<text style="stroke:none;fill:#151515" x="369.04" y="412.2" font-size="14.2" text-anchor="middle" textLength="29.4" lengthAdjust="spacingAndGlyphs">1500</text>
<text style="stroke:none;fill:#151515" x="431.16" y="412.2" font-size="14.2" text-anchor="middle" textLength="29.4" lengthAdjust="spacingAndGlyphs">1000</text>
<text style="stroke:none;fill:#151515" x="493.28" y="412.2" font-size="14.2" text-anchor="middle" textLength="22.0" lengthAdjust="spacingAndGlyphs">500</text>
<text x="62.9" y="93.2" font-size="13.7" textLength="149.3" lengthAdjust="spacingAndGlyphs">3DP of 18 wt.% PHB/PUA</text>
<text x="62.9" y="162.6" font-size="13.7" textLength="150.0" lengthAdjust="spacingAndGlyphs">3DP of 12 wt.% PHB/PUA</text>
<text x="63.4" y="229.3" font-size="13.7" textLength="143.5" lengthAdjust="spacingAndGlyphs">3DP of 6 wt.% PHB/PUA</text>
<text x="62.6" y="296.2" font-size="13.7" textLength="100.3" lengthAdjust="spacingAndGlyphs">3DP of pure PUA</text>
<text x="62.8" y="364.1" font-size="13.7" textLength="59.4" lengthAdjust="spacingAndGlyphs">PUA resin</text>
<text x="117" y="56.2" font-size="15" textLength="31.4" lengthAdjust="spacingAndGlyphs">N–H</text>
<text x="179" y="55.7" font-size="15" textLength="29.7" lengthAdjust="spacingAndGlyphs">C–H</text>
<text x="305.9" y="55.6" font-size="15" textLength="29.7" lengthAdjust="spacingAndGlyphs">C=O</text>
<text x="357.6" y="56.6" font-size="15.4" textLength="28.4" lengthAdjust="spacingAndGlyphs">C=C</text>
<text x="399.3" y="57.0" font-size="15.6" textLength="30.2" lengthAdjust="spacingAndGlyphs">C–O</text>
<text x="461.2" y="56.7" font-size="15.4" textLength="29.2" lengthAdjust="spacingAndGlyphs">C=C</text>
<text style="stroke:none;fill:#151515" x="209.6" y="435.6" font-size="17.4" textLength="97.6" lengthAdjust="spacingAndGlyphs">Wavenumber</text>
<text style="stroke:none;fill:#151515" x="311.6" y="435.6" font-size="17.4" textLength="26.4" lengthAdjust="spacingAndGlyphs">(cm</text>
<text style="stroke:none;fill:#151515" x="337.9" y="431.6" font-size="12" textLength="10.4" lengthAdjust="spacingAndGlyphs">−1</text>
<text style="stroke:none;fill:#151515" x="350.6" y="435.6" font-size="17.4">)</text>
<text style="stroke:none;fill:#151515" transform="translate(44.2 277.3) rotate(-90)" x="0" y="0" font-size="17.5" textLength="125.5" lengthAdjust="spacingAndGlyphs">Absorbance (a.u.)</text>
</svg></body></html>
